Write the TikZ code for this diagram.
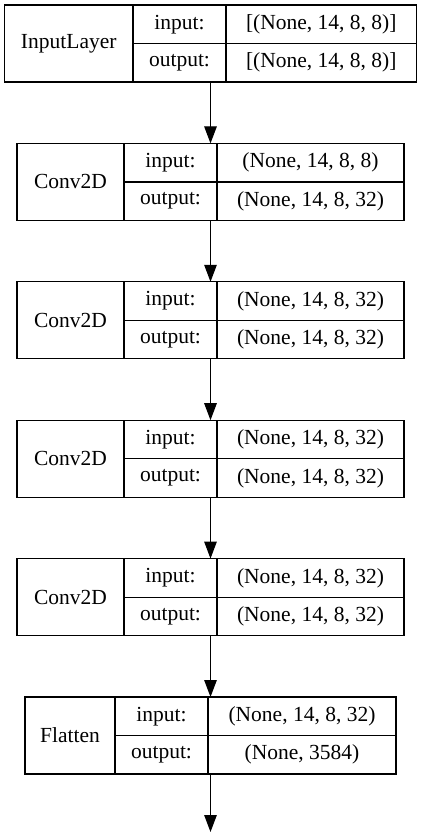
\documentclass[tikz,border=0pt]{standalone}
\usepackage{fontspec}
\setmainfont{Liberation Serif}
\usetikzlibrary{positioning,arrows.meta}

\tikzset{
  layerbox/.style={rectangle, draw, line width=1.2pt, inner sep=0pt, outer sep=0pt, minimum height=77pt},
  cell/.style={rectangle, draw, line width=1.2pt, inner sep=0pt, outer sep=0pt, font=\fontsize{21.5}{24}\selectfont},
  flow/.style={line width=1.2pt, -{Triangle[length=17pt, width=12.5pt]}}
}

\begin{document}
\begin{tikzpicture}[x=1pt, y=-1pt]
\useasboundingbox (0, 0) rectangle (427, 832);

% InputLayer
\node at (210.5, 43.5) [layerbox, minimum width=412pt] (input) {};
\node at (input.north west) [cell, anchor=north west, minimum width=128.5pt, minimum height=77pt] (inputname) {InputLayer};
\node [cell, anchor=north west, minimum width=93pt, minimum height=38.5pt] (inputinl) at (inputname.north east) {input:};
\node [cell, below=0pt of inputinl, minimum width=93pt, minimum height=38.5pt] (inputoutl) {output:};
\node [cell, right=0pt of inputinl, minimum width=190.5pt, minimum height=38.5pt] (inputinv) {[(None, 14, 8, 8)]};
\node [cell, right=0pt of inputoutl, minimum width=190.5pt, minimum height=38.5pt] (inputoutv) {[(None, 14, 8, 8)]};

% Conv2D 1
\node at (210.5, 181.9) [layerbox, minimum width=387pt] (conv1) {};
\node at (conv1.north west) [cell, anchor=north west, minimum width=107pt, minimum height=77pt] (conv1name) {Conv2D};
\node [cell, anchor=north west, minimum width=93pt, minimum height=38.5pt] (conv1inl) at (conv1name.north east) {input:};
\node [cell, below=0pt of conv1inl, minimum width=93pt, minimum height=38.5pt] (conv1outl) {output:};
\node [cell, right=0pt of conv1inl, minimum width=187pt, minimum height=38.5pt] (conv1inv) {(None, 14, 8, 8)};
\node [cell, right=0pt of conv1outl, minimum width=187pt, minimum height=38.5pt] (conv1outv) {(None, 14, 8, 32)};

% Conv2D 2
\node at (210.5, 320.3) [layerbox, minimum width=387pt] (conv2) {};
\node at (conv2.north west) [cell, anchor=north west, minimum width=107pt, minimum height=77pt] (conv2name) {Conv2D};
\node [cell, anchor=north west, minimum width=93pt, minimum height=38.5pt] (conv2inl) at (conv2name.north east) {input:};
\node [cell, below=0pt of conv2inl, minimum width=93pt, minimum height=38.5pt] (conv2outl) {output:};
\node [cell, right=0pt of conv2inl, minimum width=187pt, minimum height=38.5pt] (conv2inv) {(None, 14, 8, 32)};
\node [cell, right=0pt of conv2outl, minimum width=187pt, minimum height=38.5pt] (conv2outv) {(None, 14, 8, 32)};

% Conv2D 3
\node at (210.5, 458.7) [layerbox, minimum width=387pt] (conv3) {};
\node at (conv3.north west) [cell, anchor=north west, minimum width=107pt, minimum height=77pt] (conv3name) {Conv2D};
\node [cell, anchor=north west, minimum width=93pt, minimum height=38.5pt] (conv3inl) at (conv3name.north east) {input:};
\node [cell, below=0pt of conv3inl, minimum width=93pt, minimum height=38.5pt] (conv3outl) {output:};
\node [cell, right=0pt of conv3inl, minimum width=187pt, minimum height=38.5pt] (conv3inv) {(None, 14, 8, 32)};
\node [cell, right=0pt of conv3outl, minimum width=187pt, minimum height=38.5pt] (conv3outv) {(None, 14, 8, 32)};

% Conv2D 4
\node at (210.5, 597.1) [layerbox, minimum width=387pt] (conv4) {};
\node at (conv4.north west) [cell, anchor=north west, minimum width=107pt, minimum height=77pt] (conv4name) {Conv2D};
\node [cell, anchor=north west, minimum width=93pt, minimum height=38.5pt] (conv4inl) at (conv4name.north east) {input:};
\node [cell, below=0pt of conv4inl, minimum width=93pt, minimum height=38.5pt] (conv4outl) {output:};
\node [cell, right=0pt of conv4inl, minimum width=187pt, minimum height=38.5pt] (conv4inv) {(None, 14, 8, 32)};
\node [cell, right=0pt of conv4outl, minimum width=187pt, minimum height=38.5pt] (conv4outv) {(None, 14, 8, 32)};

% Flatten
\node at (210.5, 735.5) [layerbox, minimum width=371pt] (flatten) {};
\node at (flatten.north west) [cell, anchor=north west, minimum width=90pt, minimum height=77pt] (flattenname) {Flatten};
\node [cell, anchor=north west, minimum width=93pt, minimum height=38.5pt] (flatteninl) at (flattenname.north east) {input:};
\node [cell, below=0pt of flatteninl, minimum width=93pt, minimum height=38.5pt] (flattenoutl) {output:};
\node [cell, right=0pt of flatteninl, minimum width=188pt, minimum height=38.5pt] (flatteninv) {(None, 14, 8, 32)};
\node [cell, right=0pt of flattenoutl, minimum width=188pt, minimum height=38.5pt] (flattenoutv) {(None, 3584)};

\coordinate (exit) at (210.5, 832);

\draw[flow] (input.south) -- (conv1.north);
\draw[flow] (conv1.south) -- (conv2.north);
\draw[flow] (conv2.south) -- (conv3.north);
\draw[flow] (conv3.south) -- (conv4.north);
\draw[flow] (conv4.south) -- (flatten.north);
\draw[flow] (flatten.south) -- (exit);
\end{tikzpicture}
\end{document}
